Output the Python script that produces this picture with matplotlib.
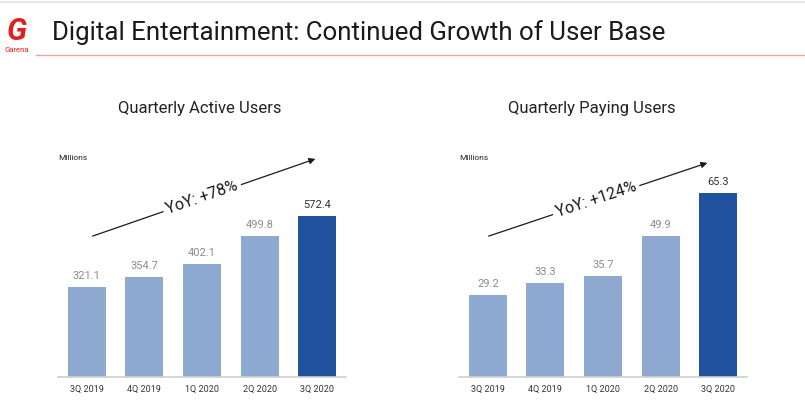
import matplotlib.pyplot as plt
import numpy as np

plt.rcParams['font.family'] = ['Roboto', 'DejaVu Sans']

quarters = ["3Q 2019", "4Q 2019", "1Q 2020", "2Q 2020", "3Q 2020"]
active_users = [321.1, 354.7, 402.1, 499.8, 572.4]
paying_users = [29.2, 33.3, 35.7, 49.9, 65.3]
titles = ["Quarterly Active Users", "Quarterly Paying Users"]
yoy_labels = ["YoY: +78%", "YoY: +124%"]

W, H = 805, 420
fig = plt.figure(figsize=(W / 100, H / 100), dpi=100)
fig.patch.set_facecolor("white")


def px(x, y):
    return x / W, 1 - y / H


# header
fig.add_artist(plt.Line2D([0, 1], [1 - 1.5 / H, 1 - 1.5 / H], color="#e6e6e6", lw=1.5))
fig.text(*px(52, 33), "Digital Entertainment: Continued Growth of User Base",
         fontsize=18.6, color="#1a1a1a", va="center", ha="left")
fig.add_artist(plt.Line2D([36 / W, 1], [1 - 55 / H, 1 - 55 / H], color="#f2a5a5", lw=1))
fig.text(*px(17, 32), "G", fontsize=22, color="#e02020", fontweight="bold",
         ha="center", va="center", style="italic")
fig.text(*px(17, 50), "Garena", fontsize=5.5, color="#e02020", ha="center", va="center")

light = "#8faad1"
dark = "#2052a0"


def draw_panel(left_px, values, ymax, title, yoy, arrow_start, arrow_end, title_x):
    base_y = 377
    top_y = 140
    width_px = 288
    ax = fig.add_axes([left_px / W, (H - base_y) / H, width_px / W, (base_y - top_y) / H])
    x = np.arange(len(values))
    colors = [light] * (len(values) - 1) + [dark]
    ax.bar(x, values, width=0.66, color=colors)
    ax.set_xlim(-0.5, len(values) - 0.5)
    ax.set_ylim(0, ymax)
    for i, v in enumerate(values):
        last = i == len(values) - 1
        ax.text(i, v + ymax * 0.025, f"{v:.1f}", ha="center", va="bottom",
                fontsize=8, color="#333333" if last else "#8c8c8c")
    ax.set_xticks(x)
    ax.set_xticklabels(quarters, fontsize=6.5, color="#333333")
    ax.tick_params(axis="x", length=0, pad=6)
    ax.set_yticks([])
    for s in ["top", "right", "left"]:
        ax.spines[s].set_visible(False)
    ax.spines["bottom"].set_color("#d0d0d0")
    ax.spines["bottom"].set_linewidth(1.2)

    fig.text(*px(title_x, 108), title, fontsize=12, color="#222222", ha="center", va="center")
    fig.text(*px(left_px, 158), "Millions", fontsize=6, color="#222222", ha="left", va="center")

    fig.add_artist(plt.matplotlib.patches.FancyArrowPatch(
        px(*arrow_start), px(*arrow_end), transform=fig.transFigure,
        arrowstyle="-|>", mutation_scale=9, color="#1a1a1a", lw=0.9))
    sx, sy = arrow_start
    ex, ey = arrow_end
    ang = np.degrees(np.arctan2(sy - ey, ex - sx))
    mx, my = (sx + ex) / 2 - 2, (sy + ey) / 2 + 0
    fig.text(*px(mx, my), yoy, fontsize=11.5, color="#1a1a1a", rotation=ang,
             rotation_mode="anchor", ha="center", va="center",
             bbox=dict(facecolor="white", edgecolor="none", pad=2.5))


draw_panel(58, active_users, 237 / 0.2813, titles[0], yoy_labels[0], (90, 237), (318, 158), 200)
draw_panel(459, paying_users, 237 / 2.82, titles[1], yoy_labels[1], (486, 237), (710, 162), 592)

fig.savefig("out.png", dpi=100)
